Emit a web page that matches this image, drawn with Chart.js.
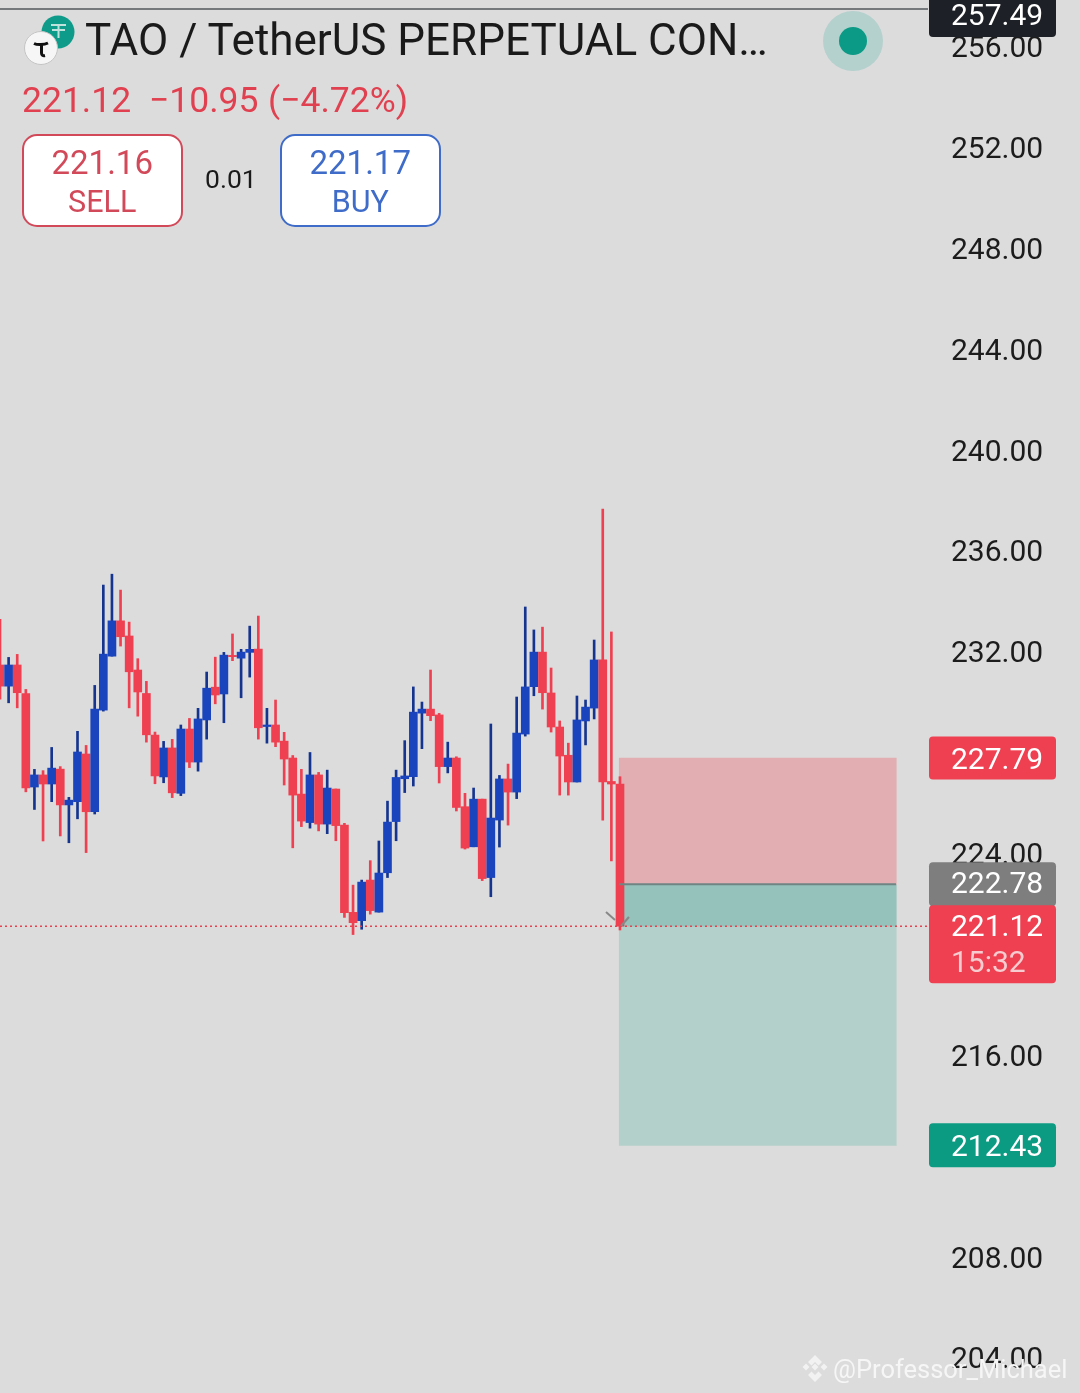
<!DOCTYPE html>
<html><head><meta charset="utf-8">
<style>
html,body{margin:0;padding:0;background:#dcdcdc;width:1080px;height:1393px;overflow:hidden;font-family:Roboto,sans-serif}
#wrap{position:relative;width:1080px;height:1393px}
canvas{position:absolute;left:0;top:0}
.t{position:absolute;white-space:nowrap;line-height:1}
.btn{position:absolute;top:134px;width:156.500px;height:89px;border-radius:15px;background:#fff;border:2px solid;text-align:center}
.btn div{position:absolute;left:0;right:0;line-height:1}
svg{position:absolute;left:0;top:0}
</style></head><body>
<div id="wrap">
<canvas id="c" width="1080" height="1393" style="width:1080px;height:1393px"></canvas>
<svg width="1080" height="1393" viewBox="0 0 1080 1393">
  <circle cx="853" cy="41" r="30" fill="#b5d1cd"/><circle cx="853" cy="41" r="14" fill="#0b9a85"/>
  <circle cx="58" cy="32" r="16.5" fill="#0f9b8a"/>
  <path d="M51 25h15M58.5 25v13M52 30h13" stroke="#bfe3dc" stroke-width="2" fill="none"/>
  <circle cx="41" cy="48" r="16.5" fill="#f6f6f6" stroke="#c4c4c4" stroke-width="1"/>
  <path d="M34 43.5c3 1.5 10 1.5 14-.5M41.5 44v9c0 2 1.5 3 3.5 2.5" stroke="#111" stroke-width="3" fill="none"/>
  <path d="M606 912l9 8" stroke="#888" stroke-width="2"/><path d="M621 926l8-9" stroke="#888" stroke-width="2"/>
  <g fill="#f4f4f4" opacity=".92">
    <path d="M815 1355l7 7-3.5 3.5-3.500-3.500-3.500 3.500-3.500-3.500z"/>
    <path d="M806 1363.500l3.500 3.500-3.500 3.500-3.500-3.500zM824 1363.500l3.500 3.500-3.500 3.500-3.500-3.500zM815 1363.500l3.500 3.500-3.500 3.500-3.500-3.500z"/>
    <path d="M815 1382l-7-7 3.500-3.500 3.500 3.500 3.500-3.500 3.500 3.500z"/>
  </g>
</svg>
<div class="t" style="left:85px;top:18px;font-size:44px;color:#1a1a1a" id="title">TAO / TetherUS PERPETUAL CON…</div>
<div class="t" style="left:22px;top:83px;font-size:35.500px;color:#e0404f">221.12</div>
<div class="t" style="left:149px;top:83px;font-size:35.500px;color:#e0404f">−10.95</div>
<div class="t" style="left:268px;top:83px;font-size:35.500px;color:#e0404f">(−4.72%)</div>
<div class="btn" style="left:22px;border-color:#d24a5a;color:#d24a5a"><div style="top:10px;font-size:33px">221.16</div><div style="top:51px;font-size:30.500px">SELL</div></div>
<div class="t" style="left:205px;top:166px;font-size:26.500px;color:#1a1a1a">0.01</div>
<div class="btn" style="left:280px;border-color:#3f6cc8;color:#3f6cc8"><div style="top:10px;font-size:33px">221.17</div><div style="top:51px;font-size:30.500px">BUY</div></div>
<div class="t" style="left:833px;top:1357px;font-size:25.500px;color:#f6f6f6">@Professor_Michael</div>
</div>
<script src="https://cdn.jsdelivr.net/npm/chart.js@4"></script>
<script>
const opens=[231.48,230.64,231.48,230.35,226.64,227.12,226.76,227.35,225.93,226.06,227.95,225.66,229.69,231.83,233.23,232.63,231.28,230.35,228.70,227.04,228.19,226.39,228.94,227.63,229.30,230.60,230.33,231.86,231.75,231.98,232.11,229.04,229.10,228.46,227.79,226.36,225.23,227.12,225.17,226.56,225.13,221.67,221.34,222.95,221.68,223.24,225.27,226.97,227.05,229.57,229.73,229.50,227.45,227.79,225.86,224.27,226.16,223.05,225.33,226.96,226.44,228.74,230.62,231.99,230.37,229.02,227.90,226.84,229.26,229.77,231.68,226.86,226.76];
const highs=[233.29,231.78,231.90,230.51,227.34,227.29,228.21,227.45,226.23,228.85,228.29,230.67,234.65,235.08,234.45,233.18,231.73,230.83,228.82,228.45,228.53,229.10,229.36,229.76,231.20,231.79,231.98,232.71,232.10,233.02,233.42,229.76,230.09,228.81,227.89,227.34,228.01,227.22,227.31,226.56,225.20,222.75,222.95,223.72,224.50,226.08,227.31,228.48,230.61,230.01,231.28,229.56,228.42,227.84,226.39,226.60,226.16,229.14,227.10,227.55,230.21,233.78,232.87,232.98,231.36,229.26,228.38,230.25,230.09,232.47,237.66,232.79,227.05];
const lows=[230.12,229.98,229.78,226.45,225.75,224.50,226.06,224.70,224.43,225.38,224.04,225.57,229.65,231.83,232.23,229.78,229.45,228.42,226.77,226.81,226.22,226.30,227.41,227.27,228.54,229.94,229.19,231.65,230.18,231.00,228.54,228.38,228.24,226.72,224.23,225.07,225.01,224.90,224.79,224.51,221.47,220.79,221.00,221.60,221.68,223.05,224.51,226.42,226.68,228.16,229.27,226.80,227.20,225.69,224.18,224.27,222.93,222.29,224.26,225.13,226.18,228.66,230.26,229.73,228.82,226.32,226.32,226.84,228.31,229.34,225.33,223.71,220.97];
const closes=[230.64,231.48,230.38,226.60,227.12,226.76,227.39,225.93,226.12,228.03,225.66,229.73,231.91,233.23,232.60,231.21,230.41,228.71,227.08,228.19,226.41,228.94,227.63,229.34,230.56,230.29,231.87,231.81,231.99,232.10,228.99,229.10,228.42,227.75,226.32,225.29,227.12,225.17,226.60,225.11,221.66,221.26,222.87,221.74,223.23,225.25,227.02,227.08,229.61,229.73,229.47,227.45,227.79,225.83,224.22,226.16,223.01,225.41,226.96,226.44,228.78,230.61,231.99,230.38,229.02,227.87,226.84,229.30,229.81,231.68,226.84,226.76,221.12];
const tickValues=[204,208,212,216,220,224,228,232,236,240,244,248,252,256];
const yRange={min:202.61,max:257.85};
const lastPrice=221.12, entryPrice=222.78, stopPrice=227.79, targetPrice=212.43, topPrice=257.49;
const xMaxIndex=107.77, boxStartIndex=71.9, boxCenterIndex=88, boxEndIndex=104.05;
const RED='#ee4050',BLUE='#1a44bd',BLUEW='#15348f';
const up=closes.map((c,i)=>c>=opens[i]);
const wickData=highs.map((h,i)=>({x:i,y:[lows[i],h]}));
const bodyData=opens.map((o,i)=>({x:i,y:[Math.min(o,closes[i]),Math.max(o,closes[i])]}));
const tags=[
 {v:stopPrice,bg:'#ee4050',lines:['227.79'],h:43},
 {v:targetPrice,bg:'#0b9a82',lines:['212.43'],h:44},
 {v:entryPrice,bg:'#7e7e7e',lines:['222.78'],h:44,txt:1},
 {v:lastPrice,bg:'#ee4050',lines:['221.12','15:32'],h:78,off:18},
 {v:topPrice,bg:'#1d2026',lines:['257.49'],h:56}
];
const tagPlugin={id:'tags',afterDraw(ch){
  const c=ch.ctx,y=ch.scales.y;
  c.save();
  for(const t of tags){
    const py=y.getPixelForValue(t.v)+(t.off||0);
    c.fillStyle=t.bg;
    c.beginPath();c.roundRect(929,py-t.h/2,127,t.h,4);c.fill();
    c.font='30px Roboto';c.textBaseline='middle';c.textAlign='left';
    if(t.v===topPrice){c.fillStyle='#fff';c.fillText(t.lines[0],951,py+8);}
    else if(t.lines.length==1){c.fillStyle='#fff';c.fillText(t.lines[0],951,py+(t.txt||3));}
    else{c.fillStyle='#fff';c.fillText(t.lines[0],951,py-16);c.fillStyle='#f6ccd0';c.fillText(t.lines[1],951,py+20);}
  }
  c.restore();
}};
new Chart(document.getElementById('c'),{
 type:'bar',
 data:{datasets:[
  {type:'line',label:'last',data:[{x:0,y:lastPrice},{x:xMaxIndex,y:lastPrice}],borderColor:'#e8404f',borderWidth:1.5,borderDash:[2,3],pointRadius:0,order:1},
  {type:'line',label:'top',data:[{x:0,y:topPrice},{x:xMaxIndex,y:topPrice}],borderColor:'#55585c',borderWidth:1.5,pointRadius:0,order:1},
  {type:'line',label:'entry',data:[{x:boxStartIndex,y:entryPrice},{x:boxEndIndex,y:entryPrice}],borderColor:'#6f8583',borderWidth:2,pointRadius:0,order:2},
  {label:'body',data:bodyData,backgroundColor:up.map(u=>u?BLUE:RED),barThickness:8,grouped:false,order:3},
  {label:'wick',data:wickData,backgroundColor:up.map(u=>u?BLUEW:RED),barThickness:2,grouped:false,order:4},
  {label:'stop',data:[{x:boxCenterIndex,y:[entryPrice,stopPrice]}],backgroundColor:'#e2aeb2',barThickness:277,grouped:false,order:5},
  {label:'target1',data:[{x:boxCenterIndex,y:[lastPrice,entryPrice]}],backgroundColor:'#95c2ba',barThickness:277,grouped:false,order:5},
  {label:'target2',data:[{x:boxCenterIndex,y:[targetPrice,lastPrice]}],backgroundColor:'#b4d0ca',barThickness:277,grouped:false,order:5}
 ]},
 options:{
  responsive:false,animation:false,
  layout:{padding:0,autoPadding:false},
  plugins:{legend:{display:false},tooltip:{enabled:false}},
  scales:{
   x:{type:'linear',bounds:'data',min:0,max:xMaxIndex,display:false,offset:false,grid:{display:false}},
   y:{position:'right',bounds:'data',min:yRange.min,max:yRange.max,
      grid:{display:false,drawTicks:false},border:{display:false},
      afterFit(s){s.width=152;s.paddingTop=0;s.paddingBottom=0;},
      afterBuildTicks(s){s.ticks=tickValues.map(v=>({value:v}));},
      ticks:{padding:23,labelOffset:3,autoSkip:false,color:'#1c1c1c',font:{family:'Roboto',size:30},callback:v=>Number(v).toFixed(2)}}
  }
 },
 plugins:[tagPlugin]
});
</script>
</body></html>
